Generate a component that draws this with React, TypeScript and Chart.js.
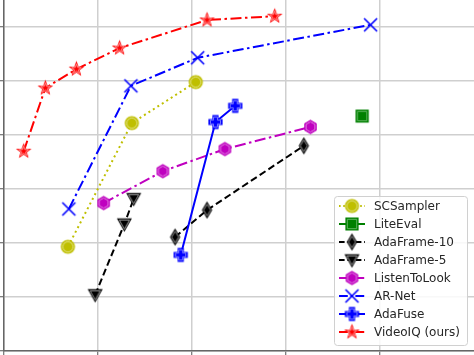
import React, { useEffect, useRef } from 'react';
import { Chart, registerables } from 'chart.js';
Chart.register(...registerables);

const seriesNames = ['SCSampler', 'LiteEval', 'AdaFrame-10', 'AdaFrame-5', 'ListenToLook', 'AR-Net', 'AdaFuse', 'VideoIQ (ours)'];

const scSamplerX = [0.68, 1.36, 2.04];
const scSamplerY = [1.93, 4.22, 4.98];
const liteEvalX = [3.81];
const liteEvalY = [4.35];
const adaFrame10X = [1.82, 2.16, 3.19];
const adaFrame10Y = [2.11, 2.61, 3.8];
const adaFrame5X = [0.97, 1.28, 1.38];
const adaFrame5Y = [1.04, 2.35, 2.82];
const listenToLookX = [1.06, 1.69, 2.35, 3.26];
const listenToLookY = [2.74, 3.33, 3.74, 4.15];
const arNetX = [0.69, 1.35, 2.06, 3.9];
const arNetY = [2.63, 4.91, 5.43, 6.04];
const adaFuseX = [1.88, 2.25, 2.46];
const adaFuseY = [1.78, 4.24, 4.54];
const videoIQX = [0.21, 0.44, 0.77, 1.23, 2.16, 2.88];
const videoIQY = [3.7, 4.87, 5.22, 5.61, 6.13, 6.2];

const allX = [scSamplerX, liteEvalX, adaFrame10X, adaFrame5X, listenToLookX, arNetX, adaFuseX, videoIQX];
const allY = [scSamplerY, liteEvalY, adaFrame10Y, adaFrame5Y, listenToLookY, arNetY, adaFuseY, videoIQY];

const colors = ['#bfbf00', '#008000', '#000000', '#000000', '#bf00bf', '#0000ff', '#0000ff', '#ff0000'];
const lighter = ['#e4e48a', '#5fb35f', '#9a9a9a', '#9a9a9a', '#e27de2', '#7f7fff', '#7f7fff', '#ff9a9a'];
const shapes = ['circle', 'square', 'thin_diamond', 'triangle_down', 'hexagon', 'x', 'plus', 'star'];
const sizes = [13, 12, 15, 13, 13, 13, 13, 13];
const dashes: number[][] = [[2, 3.3], [], [7, 3.5], [7, 3.5], [11, 3.5, 2.5, 3.5], [11, 3.5, 2.5, 3.5], [], [11, 3.5, 2.5, 3.5]];
const showLines = [true, false, true, true, true, true, true, true];

function shapePath(ctx: CanvasRenderingContext2D, shape: string, size: number, k: number) {
  const r = (size / 2) * k;
  ctx.beginPath();
  if (shape === 'circle') {
    ctx.arc(0, 0, r, 0, Math.PI * 2);
  } else if (shape === 'square') {
    ctx.rect(-r, -r, 2 * r, 2 * r);
  } else if (shape === 'thin_diamond') {
    ctx.moveTo(0, -r); ctx.lineTo(r * 0.6, 0); ctx.lineTo(0, r); ctx.lineTo(-r * 0.6, 0); ctx.closePath();
  } else if (shape === 'triangle_down') {
    ctx.moveTo(-r, -r * 0.8); ctx.lineTo(r, -r * 0.8); ctx.lineTo(0, r); ctx.closePath();
  } else if (shape === 'hexagon') {
    for (let i = 0; i < 6; i++) {
      const a = -Math.PI / 2 + (i * Math.PI) / 3;
      const px = r * Math.cos(a), py = r * Math.sin(a);
      if (i === 0) ctx.moveTo(px, py); else ctx.lineTo(px, py);
    }
    ctx.closePath();
  } else if (shape === 'plus') {
    const t = r / 2.6;
    ctx.moveTo(-t, -r); ctx.lineTo(t, -r); ctx.lineTo(t, -t); ctx.lineTo(r, -t); ctx.lineTo(r, t);
    ctx.lineTo(t, t); ctx.lineTo(t, r); ctx.lineTo(-t, r); ctx.lineTo(-t, t); ctx.lineTo(-r, t);
    ctx.lineTo(-r, -t); ctx.lineTo(-t, -t); ctx.closePath();
  } else if (shape === 'star') {
    for (let i = 0; i < 10; i++) {
      const a = -Math.PI / 2 + (i * Math.PI) / 5;
      const rr = i % 2 === 0 ? r : r * 0.42;
      const px = rr * Math.cos(a), py = rr * Math.sin(a);
      if (i === 0) ctx.moveTo(px, py); else ctx.lineTo(px, py);
    }
    ctx.closePath();
  }
}

function makeMarker(shape: string, size: number, fill: string, light: string) {
  const c = document.createElement('canvas');
  const s = Math.ceil(size + 6);
  c.width = s; c.height = s;
  const ctx = c.getContext('2d')!;
  ctx.translate(s / 2, s / 2);
  if (shape === 'x') {
    const r = size / 2;
    ctx.strokeStyle = fill; ctx.lineWidth = 1.6;
    ctx.beginPath();
    ctx.moveTo(-r, -r); ctx.lineTo(r, r); ctx.moveTo(r, -r); ctx.lineTo(-r, r);
    ctx.stroke();
    return c;
  }
  shapePath(ctx, shape, size, 1);
  ctx.fillStyle = fill; ctx.fill();
  ctx.strokeStyle = fill; ctx.lineWidth = 1.2; ctx.stroke();
  shapePath(ctx, shape, size, 0.78);
  ctx.strokeStyle = light; ctx.lineWidth = 1; ctx.stroke();
  return c;
}

export default function App() {
  const ref = useRef<HTMLCanvasElement>(null);
  useEffect(() => {
    const markers = shapes.map((sh, i) => makeMarker(sh, sizes[i], colors[i], lighter[i]));
    const datasets = seriesNames.map((name, i) => ({
      label: name,
      data: allX[i].map((x, j) => ({ x, y: allY[i][j] })),
      borderColor: colors[i],
      backgroundColor: colors[i],
      borderWidth: 2,
      borderDash: dashes[i],
      showLine: showLines[i],
      pointStyle: markers[i] as any,
      pointRadius: 6,
      pointHoverRadius: 6,
      tension: 0,
      clip: false as any,
      order: seriesNames.length - i,
    }));

    const legendPlugin = {
      id: 'customLegend',
      afterDraw(chart: any) {
        const ctx = chart.ctx as CanvasRenderingContext2D;
        ctx.save();
        const bx = 334.5, by = 196.5, bw = 133, bh = 149, rad = 3;
        ctx.beginPath();
        ctx.moveTo(bx + rad, by);
        ctx.arcTo(bx + bw, by, bx + bw, by + bh, rad);
        ctx.arcTo(bx + bw, by + bh, bx, by + bh, rad);
        ctx.arcTo(bx, by + bh, bx, by, rad);
        ctx.arcTo(bx, by, bx + bw, by, rad);
        ctx.closePath();
        ctx.fillStyle = 'rgba(255,255,255,0.85)';
        ctx.fill();
        ctx.strokeStyle = '#d0d0d0';
        ctx.lineWidth = 1;
        ctx.stroke();
        ctx.font = '12px "DejaVu Sans"';
        ctx.textBaseline = 'middle';
        seriesNames.forEach((name, i) => {
          const cy = 206 + i * 18;
          ctx.beginPath();
          ctx.setLineDash(dashes[i].length ? dashes[i].map((d) => d * 0.8) : []);
          ctx.strokeStyle = colors[i];
          ctx.lineWidth = 2;
          ctx.moveTo(339, cy);
          ctx.lineTo(365, cy);
          ctx.stroke();
          ctx.setLineDash([]);
          const m = markers[i];
          ctx.drawImage(m, 352 - m.width / 2, cy - m.height / 2);
          ctx.fillStyle = '#262626';
          ctx.fillText(name, 374, cy + 1);
        });
        ctx.restore();
      },
    };

    const gridOpts = { color: '#cfcfcf', lineWidth: 1.5, tickColor: '#555555', tickLength: 4, tickWidth: 1 };
    const borderOpts = { display: true, color: '#666666', width: 1.5 };

    const chart = new Chart(ref.current!, {
      type: 'line',
      data: { datasets },
      options: {
        animation: false,
        responsive: false,
        maintainAspectRatio: false,
        layout: { padding: 0, autoPadding: false } as any,
        plugins: { legend: { display: false }, tooltip: { enabled: false } },
        scales: {
          x: {
            type: 'linear', min: 0, max: 5,
            ticks: { display: false, stepSize: 1 },
            grid: gridOpts, border: borderOpts,
            afterBuildTicks: (scale: any) => {
              scale.ticks = scale.ticks.filter((t: any) => Number.isInteger(t.value) && t.value < 5);
            },
          },
          y: {
            type: 'linear', min: 0, max: 6.5,
            ticks: { display: false, stepSize: 1 },
            grid: gridOpts, border: borderOpts,
            afterBuildTicks: (scale: any) => {
              scale.ticks = scale.ticks.filter((t: any) => Number.isInteger(t.value));
            },
          },
        },
      },
      plugins: [legendPlugin],
    });
    return () => chart.destroy();
  }, []);
  return (
    <div style={{ position: 'fixed', left: 0, top: 0, width: 474, height: 355, background: '#fff' }}>
      <canvas ref={ref} width={474} height={355} style={{ width: 474, height: 355, display: 'block' }} />
    </div>
  );
}
